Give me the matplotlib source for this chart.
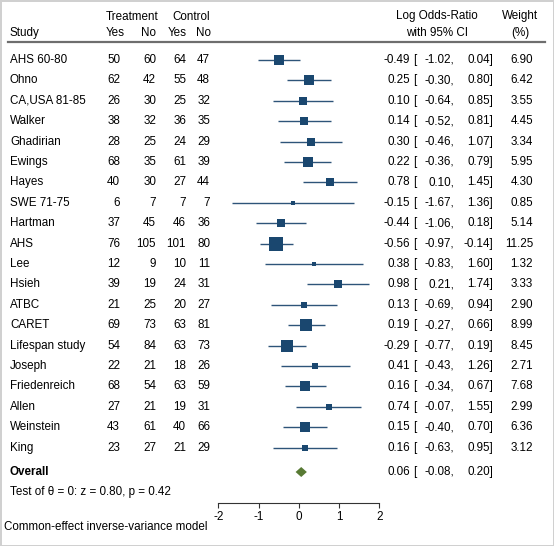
import matplotlib.pyplot as plt
import numpy as np
from matplotlib.transforms import blended_transform_factory

plt.rcParams['font.family'] = ['Liberation Sans', 'DejaVu Sans']

# data
studies = ["AHS 60-80", "Ohno", "CA,USA 81-85", "Walker", "Ghadirian", "Ewings", "Hayes",
           "SWE 71-75", "Hartman", "AHS", "Lee", "Hsieh", "ATBC", "CARET", "Lifespan study",
           "Joseph", "Friedenreich", "Allen", "Weinstein", "King"]
treat_yes = [50, 62, 26, 38, 28, 68, 40, 6, 37, 76, 12, 39, 21, 69, 54, 22, 68, 27, 43, 23]
treat_no = [60, 42, 30, 32, 25, 35, 30, 7, 45, 105, 9, 19, 25, 73, 84, 21, 54, 21, 61, 27]
ctrl_yes = [64, 55, 25, 36, 24, 61, 27, 7, 46, 101, 10, 24, 20, 63, 63, 18, 63, 19, 40, 21]
ctrl_no = [47, 48, 32, 35, 29, 39, 44, 7, 36, 80, 11, 31, 27, 81, 73, 26, 59, 31, 66, 29]
log_or = [-0.49, 0.25, 0.10, 0.14, 0.30, 0.22, 0.78, -0.15, -0.44, -0.56, 0.38, 0.98, 0.13,
          0.19, -0.29, 0.41, 0.16, 0.74, 0.15, 0.16]
ci_lo = [-1.02, -0.30, -0.64, -0.52, -0.46, -0.36, 0.10, -1.67, -1.06, -0.97, -0.83, 0.21,
         -0.69, -0.27, -0.77, -0.43, -0.34, -0.07, -0.40, -0.63]
ci_hi = [0.04, 0.80, 0.85, 0.81, 1.07, 0.79, 1.45, 1.36, 0.18, -0.14, 1.60, 1.74, 0.94, 0.66,
         0.19, 1.26, 0.67, 1.55, 0.70, 0.95]
weights = [6.90, 6.42, 3.55, 4.45, 3.34, 5.95, 4.30, 0.85, 5.14, 11.25, 1.32, 3.33, 2.90, 8.99,
           8.45, 2.71, 7.68, 2.99, 6.36, 3.12]
overall = [0.06, -0.08, 0.20]
x_ticks = [-2, -1, 0, 1, 2]

W, H = 554, 546
FS = 8.4
BLUE = '#1a476f'
LINE = '#2e5479'
GREEN = '#587a34'

# layout in pixels
row0, step = 60, 20.4
ax_left, ax_right, ax_bottom = 218.3, 379.3, 503

fig = plt.figure(figsize=(W / 100, H / 100), dpi=100)
fig.patch.set_edgecolor('#d0d0d0')
fig.patch.set_linewidth(2)

ax = fig.add_axes([ax_left / W, 1 - ax_bottom / H, (ax_right - ax_left) / W, ax_bottom / H])
ax.set_xlim(-2, 2)
ax.set_ylim((ax_bottom - row0) / step, -row0 / step)


def rowpx(px):
    return (px - row0) / step


tr = blended_transform_factory(fig.transFigure, ax.transData)


def put(xpx, row, s, ha='left', **kw):
    ax.text(xpx / W, row, s, ha=ha, va='center', fontsize=FS, transform=tr, clip_on=False, **kw)


# header
put(132.5, rowpx(16.5), "Treatment", ha='center')
put(191, rowpx(16.5), "Control", ha='center')
put(10, rowpx(33), "Study")
for xp, s in [(125, "Yes"), (156, "No"), (187, "Yes"), (211, "No")]:
    put(xp, rowpx(33), s, ha='right')
put(437, rowpx(16.5), "Log Odds-Ratio", ha='center')
put(437, rowpx(33), "with 95% CI", ha='center')
put(520, rowpx(16.5), "Weight", ha='center')
put(520, rowpx(33), "(%)", ha='center')
ax.plot([8 / W, 545 / W], [rowpx(42), rowpx(42)], color='#6e6e6e', lw=1.6,
        transform=tr, clip_on=False)

rows = np.arange(len(studies))

# studies
for i, r in enumerate(rows):
    put(10, r, studies[i])
    put(120, r, str(treat_yes[i]), ha='right')
    put(156, r, str(treat_no[i]), ha='right')
    put(186, r, str(ctrl_yes[i]), ha='right')
    put(210, r, str(ctrl_no[i]), ha='right')
    put(410, r, f"{log_or[i]:.2f}", ha='right')
    put(413, r, "[")
    put(454, r, f"{ci_lo[i]:.2f},", ha='right')
    put(493, r, f"{ci_hi[i]:.2f}]", ha='right')
    put(533, r, f"{weights[i]:.2f}", ha='right')

ax.hlines(rows, ci_lo, ci_hi, color=LINE, lw=1.0)
for i, r in enumerate(rows):
    ax.plot(log_or[i], r, marker='s', ms=2.8 * np.sqrt(weights[i]), mew=0, color=BLUE)

# overall
r_ov = rowpx(472)
put(10, r_ov, "Overall", fontweight='bold')
est, lo, hi = overall
dh = 5 / step
ax.fill([lo, est, hi, est], [r_ov, r_ov - dh, r_ov, r_ov + dh], color=GREEN, lw=0)
put(410, r_ov, f"{est:.2f}", ha='right')
put(413, r_ov, "[")
put(454, r_ov, f"{lo:.2f},", ha='right')
put(493, r_ov, f"{hi:.2f}]", ha='right')

put(10, rowpx(492.5), "Test of \u03b8 = 0: z = 0.80, p = 0.42")
put(4, rowpx(527), "Common-effect inverse-variance model")

# axis
for side in ['top', 'right', 'left']:
    ax.spines[side].set_visible(False)
ax.spines['bottom'].set_color('#333333')
ax.spines['bottom'].set_linewidth(0.8)
ax.set_yticks([])
ax.set_xticks(x_ticks)
ax.set_xticklabels([str(t) for t in x_ticks], fontsize=FS)
ax.tick_params(axis='x', direction='out', length=3.5, width=0.8, color='#333333', pad=2.5)
ax.patch.set_alpha(0)

fig.savefig('out.png', dpi=100)
